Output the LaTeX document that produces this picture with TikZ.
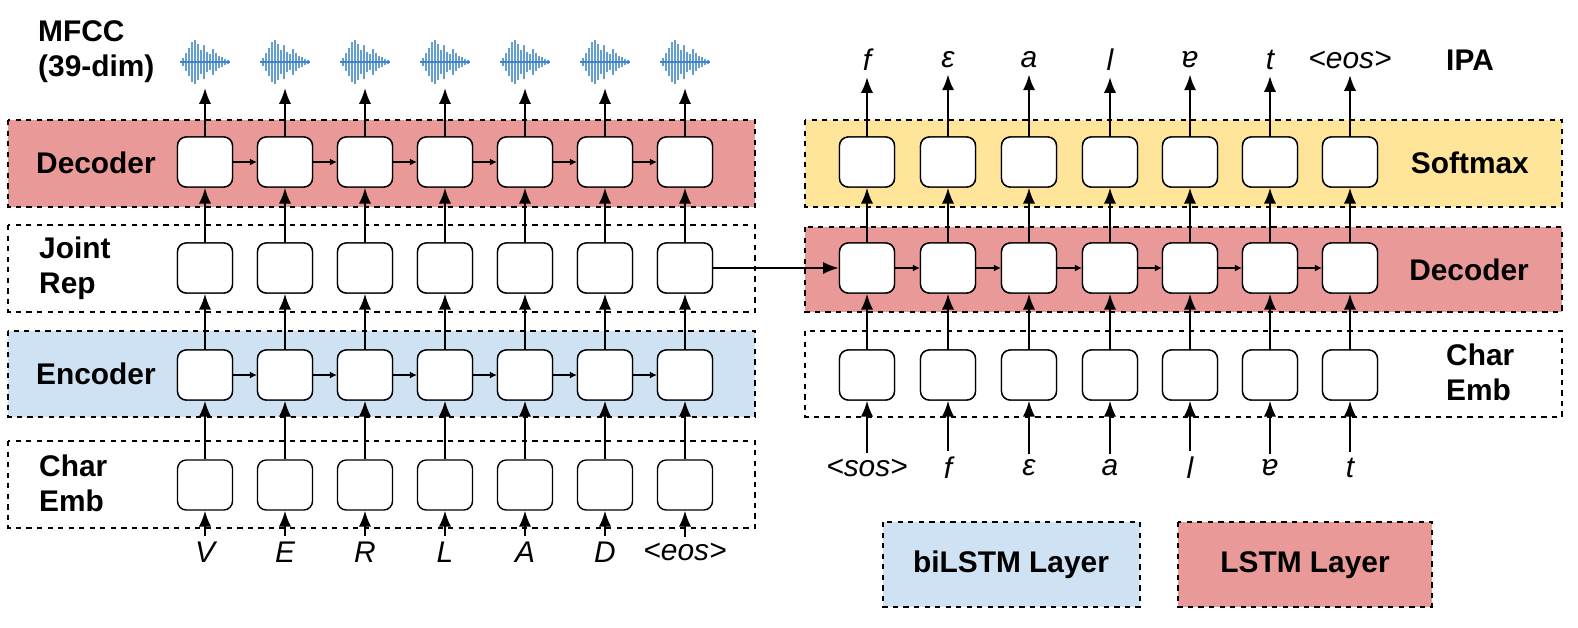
\documentclass[tikz,border=0pt]{standalone}
\usepackage{fontspec}
\setmainfont{Liberation Sans}
\usetikzlibrary{arrows.meta}
\definecolor{lstmred}{HTML}{EA9999}
\definecolor{bilstmblue}{HTML}{CFE2F3}
\definecolor{softyellow}{HTML}{FFE599}
\definecolor{wave}{HTML}{3D85C6}
\begin{document}
\begin{tikzpicture}[x=0.02cm,y=-0.02cm,
    layer/.style={draw, dashed, line width=0.8pt},
    cell/.style={draw, fill=white, rounded corners=5pt, minimum width=1.1cm, minimum height=1.0cm, line width=0.8pt},
    lbl/.style={font=\bfseries\fontsize{17}{20}\selectfont, align=left},
    sym/.style={font=\itshape\fontsize{17}{20}\selectfont},
    up/.style={-{Latex[length=9pt,width=7pt]}, line width=1.2pt},
    rec/.style={-{Latex[length=4pt,width=4pt]}, line width=0.6pt}]
    \useasboundingbox (0,0) rectangle (1578,627);

	% Layers, left
	\draw[layer, fill=lstmred] (8,120) rectangle (755,207);
	\draw[layer] (8,225) rectangle (755,312);
	\draw[layer, fill=bilstmblue] (8,331) rectangle (755,417);
	\draw[layer] (8,441) rectangle (755,528);
	\node[lbl, anchor=west] at (30,163) {Decoder};
	\node[lbl, anchor=west] at (33,268) {Joint\\Rep};
	\node[lbl, anchor=west] at (30,374) {Encoder};
	\node[lbl, anchor=west] at (33,483) {Char\\Emb};
	\node[lbl, anchor=west] at (32,52) {MFCC\\(39-dim)};

	% Layers, right
	\draw[layer, fill=softyellow] (805,120) rectangle (1562,207);
	\draw[layer, fill=lstmred] (805,227) rectangle (1562,312);
	\draw[layer] (805,331) rectangle (1562,417);
	\node[lbl, anchor=east] at (1535,163) {Softmax};
	\node[lbl, anchor=east] at (1535,270) {Decoder};
	\node[lbl, anchor=west] at (1440,372) {Char\\Emb};
	\node[lbl] at (1470,60) {IPA};

	% Legend
	\draw[layer, fill=bilstmblue] (883,522) rectangle (1140,607);
	\node[lbl] at (1011,565) {biLSTM Layer};
	\draw[layer, fill=lstmred] (1178,522) rectangle (1432,607);
	\node[lbl] at (1305,565) {LSTM Layer};

	% Left columns
	\foreach \i/\x/\t in {1/205/V,2/285/E,3/365/R,4/445/L,5/525/A,6/605/D,7/685/<eos>} {
	    \node[cell] (ld\i) at (\x,162) {};
	    \node[cell] (lj\i) at (\x,268) {};
	    \node[cell] (le\i) at (\x,375) {};
	    \node[cell] (lc\i) at (\x,485) {};
	    \node[sym] (lin\i) at (\x,552) {\t};
	    \coordinate (lout\i) at (\x,88);
	    \draw[up] (lin\i) -- (lc\i);
	    \draw[up] (lc\i) -- (le\i);
	    \draw[up] (le\i.center) -- (lj\i.south);
	    \draw[up] (lj\i.center) -- (ld\i.south);
	    \draw[up] (ld\i.center) -- (lout\i);
	    % waveform
	    \foreach \k/\h in {-22/4,-19/9,-16/14,-13/20,-10/22,-7/18,-4/12,-1/17,2/10,5/8,8/13,11/9,14/6,17/5,20/3,23/2} {
	        \draw[wave, line width=1.3pt, opacity=0.8] (\x+\k,62-\h) -- (\x+\k,62+\h);
	    }
	    \draw[wave, line width=1.5pt] (\x-25,62) -- (\x+25,62);
	}
	% Right columns
	\foreach \i/\x/\t/\o in {1/867/<sos>/f,2/948/f/ɛ,3/1029/ɛ/a,4/1110/a/l,5/1190/l/ɐ,6/1270/ɐ/t,7/1350/t/<eos>} {
	    \node[cell] (rs\i) at (\x,162) {};
	    \node[cell] (rd\i) at (\x,268) {};
	    \node[cell] (rc\i) at (\x,375) {};
	    \node[sym] (rin\i) at (\x,468) {\t};
	    \node[sym] (rout\i) at (\x,60) {\o};
	    \draw[up] (rin\i) -- (rc\i);
	    \draw[up] (rc\i.center) -- (rd\i.south);
	    \draw[up] (rd\i.center) -- (rs\i.south);
	    \draw[up] (rs\i.center) -- (rout\i);
	}
	\foreach \i in {1,...,7} {
	    \node[cell] at (ld\i) {};
	    \node[cell] at (lj\i) {};
	    \node[cell] at (le\i) {};
	    \node[cell] at (rs\i) {};
	    \node[cell] at (rd\i) {};
	    \node[cell] at (rc\i) {};
	}
	% Recurrent links
	\foreach \i [evaluate=\i as \j using int(\i+1)] in {1,...,6} {
	    \draw[rec] (ld\i) -- (ld\j);
	    \draw[rec] (le\i) -- (le\j);
	    \draw[rec] (rd\i) -- (rd\j);
	}
	\draw[up] (lj7) -- (rd1);
\end{tikzpicture}
\end{document}
